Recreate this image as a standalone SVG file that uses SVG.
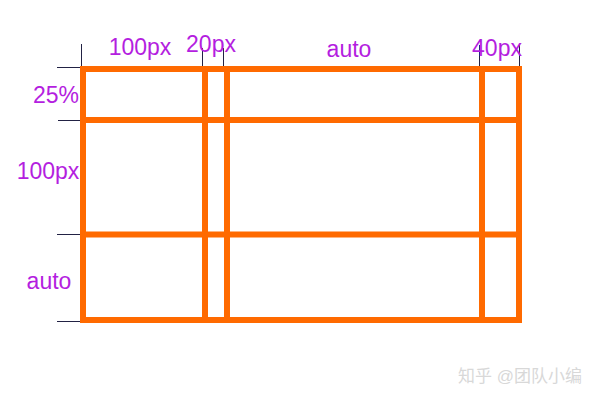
<svg xmlns="http://www.w3.org/2000/svg" width="600" height="400" viewBox="0 0 600 400">
<style>
.g{stroke:#ff6a00;stroke-width:6;fill:none}
.t{stroke:#222244;stroke-width:1}
.l{font-family:"Liberation Sans",Arial,sans-serif;font-size:23px;fill:#b41ee0}
.w{font-family:"Liberation Sans","Noto Sans CJK SC",sans-serif;font-size:17px;fill:#d8d8d8}
</style>
<rect width="600" height="400" fill="#fff"/>
<g id="ticks">
<line class="t" x1="81.5" y1="44" x2="81.5" y2="67"/>
<line class="t" x1="202.5" y1="48" x2="202.5" y2="67"/>
<line class="t" x1="223.5" y1="48" x2="223.5" y2="67"/>
<line class="t" x1="479.5" y1="45" x2="479.5" y2="67"/>
<line class="t" x1="519.5" y1="45" x2="519.5" y2="67"/>
<line class="t" x1="57" y1="67.5" x2="81" y2="67.5"/>
<line class="t" x1="58" y1="120.5" x2="81" y2="120.5"/>
<line class="t" x1="57" y1="234.5" x2="80" y2="234.5"/>
<line class="t" x1="57" y1="321.5" x2="80" y2="321.5"/>
</g>
<g id="grid">
<rect class="g" x="83" y="69" width="436" height="251"/>
<line class="g" x1="205" y1="69" x2="205" y2="320"/>
<line class="g" x1="227" y1="69" x2="227" y2="320"/>
<line class="g" x1="482" y1="69" x2="482" y2="320"/>
<line class="g" x1="83" y1="120" x2="519" y2="120"/>
<line class="g" x1="83" y1="234.5" x2="519" y2="234.5"/>
</g>
<g id="labels">
<text class="l" x="140" y="55" text-anchor="middle">100px</text>
<text class="l" x="211" y="52" text-anchor="middle">20px</text>
<text class="l" x="349" y="57" text-anchor="middle">auto</text>
<text class="l" x="497" y="56" text-anchor="middle">40px</text>
<text class="l" x="56" y="103" text-anchor="middle">25%</text>
<text class="l" x="48" y="179" text-anchor="middle">100px</text>
<text class="l" x="49" y="289" text-anchor="middle">auto</text>
</g>
<text class="w" x="458" y="382">知乎 @团队小编</text>
</svg>
